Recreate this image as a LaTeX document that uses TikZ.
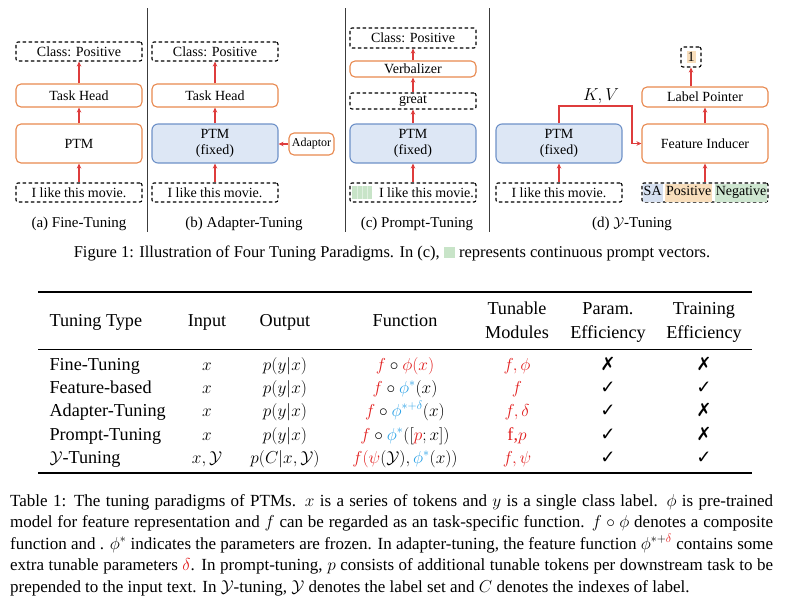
\documentclass[tikz,border=0pt]{standalone}
\usepackage{fontspec}
\setmainfont{Liberation Serif}
\newfontfamily\markfont{DejaVu Sans}
\usetikzlibrary{arrows.meta,positioning,calc}
\definecolor{boxorange}{RGB}{232,136,78}
\definecolor{ptmblue}{RGB}{110,145,200}
\definecolor{ptmfill}{RGB}{221,231,245}
\definecolor{arrowred}{RGB}{222,60,60}
\definecolor{promptgreen}{RGB}{200,228,200}
\definecolor{hlblue}{RGB}{214,224,240}
\definecolor{hlorange}{RGB}{248,222,188}
\definecolor{hlgreen}{RGB}{206,230,208}
\definecolor{fred}{RGB}{225,30,30}
\definecolor{phicyan}{RGB}{40,160,230}
\definecolor{sepgray}{RGB}{60,60,60}
\newcommand{\cmark}{{\markfont ✓}}
\newcommand{\xmark}{{\markfont ✗}}
\tikzset{
  dashbox/.style={draw, dash pattern=on 3.5pt off 2.5pt, line width=1.1pt, rounded corners=2pt, minimum width=126pt, inner sep=0pt},
  taskbox/.style={draw=boxorange, line width=1.1pt, rounded corners=5pt, minimum width=126pt, inner sep=0pt},
  ptmbox/.style={draw=ptmblue, fill=ptmfill, line width=1.1pt, rounded corners=6pt, minimum width=126pt, minimum height=39pt, inner sep=0pt, align=center},
  flow/.style={draw=arrowred, line width=1.2pt, -{Stealth[length=5pt,width=4.5pt]}},
  subcap/.style={font=\fontsize{15}{18}\selectfont},
}
\begin{document}
\begin{tikzpicture}[x=1pt, y=-1pt, font=\fontsize{14}{16}\selectfont]
\useasboundingbox (0,0) rectangle (791,600);
\foreach \x in {147,345,489} \draw[sepgray, line width=0.9pt] (\x,8) -- (\x,232);

\node[dashbox, minimum height=19pt] (clsA) at (79,51.5) {Class: Positive};
\node[taskbox, minimum height=23pt] (headA) at (79,95.5) {Task Head};
\node[taskbox, minimum height=39pt] (ptmA) at (79,143.5) {PTM};
\node[dashbox, minimum height=19pt] (inA) at (79,192.5) {I like this movie.};
\foreach \a/\b in {inA/ptmA, ptmA/headA, headA/clsA} \draw[flow] (\a) -- (\b);
\node[subcap] (capA) at (79,224) {(a) Fine-Tuning};

\node[dashbox, minimum height=19pt] (clsB) at (215,51.5) {Class: Positive};
\node[taskbox, minimum height=23pt] (headB) at (215,95.5) {Task Head};
\node[ptmbox] (ptmB) at (215,143.5) {PTM\\(fixed)};
\node[dashbox, minimum height=19pt] (inB) at (215,192.5) {I like this movie.};
\node[taskbox, minimum width=45pt, minimum height=22pt, font=\fontsize{12}{14}\selectfont] (adB) at (311.5,144) {Adaptor};
\foreach \a/\b in {inB/ptmB, ptmB/headB, headB/clsB} \draw[flow] (\a) -- (\b);
\draw[flow] (adB.west) -- (adB.west -| ptmB.east);
\node[subcap] (capB) at (244,224) {(b) Adapter-Tuning};

\node[dashbox, minimum height=20pt] (clsC) at (413,38) {Class: Positive};
\node[taskbox, minimum height=16pt] (verbC) at (413,69) {Verbalizer};
\node[dashbox, minimum height=16pt] (greatC) at (413,101) {great};
\node[ptmbox] (ptmC) at (413,143.5) {PTM\\(fixed)};
\node[dashbox, minimum height=19pt] (inC) at (413,192.5) {\hspace*{27pt}I like this movie.};
\fill[promptgreen] ($(inC.west)+(3,-6.5)$) rectangle ($(inC.west)+(23,6.5)$);
\foreach \s in {8,13,18} \draw[white, opacity=0.45, line width=0.6pt] ($(inC.west)+(\s,-6.5)$) -- ++(0,13);
\foreach \a/\b in {inC/ptmC, ptmC/greatC, greatC/verbC, verbC/clsC} \draw[flow] (\a) -- (\b);
\node[subcap] (capC) at (417,224) {(c) Prompt-Tuning};

\node[ptmbox] (ptmD) at (559,143.5) {PTM\\(fixed)};
\node[dashbox, minimum height=19pt] (inD) at (559,192.5) {I like this movie.};
\node[taskbox, minimum height=39pt] (fiD) at (705,143.5) {Feature Inducer};
\node[taskbox, minimum height=20pt] (lpD) at (705,97) {Label Pointer};
\node[dashbox, minimum width=20pt, minimum height=20pt] (oneD) at (691,57) {\setlength{\fboxsep}{1pt}\colorbox{hlorange}{1}};
\node[dashbox, minimum height=19pt] (labD) at (705,192.5) {\setlength{\fboxsep}{1pt}\colorbox{hlblue}{\strut SA}\hspace{2.5pt}\colorbox{hlorange}{\strut Positive}\hspace{2.5pt}\colorbox{hlgreen}{\strut Negative}};
\coordinate (kvTurn) at (632,106);
\draw[flow] (ptmD.north) |- (kvTurn) |- (fiD.west);
\node[font=\fontsize{18}{20}\selectfont] (kvD) at (601,96) {$K,V$};
\foreach \a/\b in {inD/ptmD, labD/fiD, fiD/lpD} \draw[flow] (\a) -- (\b);
\draw[flow] (lpD.north -| oneD.south) -- (oneD.south);
\node[subcap] (capD) at (632,224) {(d) $\mathcal{Y}$-Tuning};

\node[font=\fontsize{16.5}{21.5}\selectfont] (figcap) at (392,253) {Figure 1: Illustration of Four Tuning Paradigms. In (c), \textcolor{promptgreen}{\rule[-1pt]{11pt}{11pt}} represents continuous prompt vectors.};

\begin{scope}[font=\fontsize{18.2}{24}\selectfont]
\draw[line width=1.3pt] (38,292) -- (752,292);
\draw[line width=0.8pt] (38,349) -- (752,349);
\draw[line width=1.3pt] (38,473) -- (752,473);
\node[anchor=base west] (hType) at (46,326) {Tuning Type};
\node[anchor=base] (hInput) at (207,326) {Input};
\node[anchor=base] (hOutput) at (285,326) {Output};
\node[anchor=base] (hFunc) at (405,326) {Function};
\foreach \x/\t/\b in {517/Tunable/Modules, 608/Param./Efficiency, 704/Training/Efficiency} {
  \node[anchor=base] (hTop\x) at (\x,314) {\t};
  \node[anchor=base] (hBot\x) at (\x,338) {\b};
}
\foreach \r/\y/\ttype/\inp/\outp/\fun/\mods/\pe/\te in {
  1/370/Fine-Tuning/$x$/$p(y|x)$/{$\textcolor{fred}{f}\circ\textcolor{fred}{\phi(x)}$}/{$\textcolor{fred}{f,\phi}$}/\xmark/\xmark,
  2/393/Feature-based/$x$/$p(y|x)$/{$\textcolor{fred}{f}\circ\textcolor{phicyan}{\phi^*}(x)$}/{$\textcolor{fred}{f}$}/\cmark/\cmark,
  3/416/Adapter-Tuning/$x$/$p(y|x)$/{$\textcolor{fred}{f}\circ\textcolor{phicyan}{\phi^{*+\delta}}(x)$}/{$\textcolor{fred}{f,\delta}$}/\cmark/\xmark,
  4/440/Prompt-Tuning/$x$/$p(y|x)$/{$\textcolor{fred}{f}\circ\textcolor{phicyan}{\phi^*}([\textcolor{fred}{p};x])$}/{\textcolor{fred}{f,$p$}}/\cmark/\xmark,
  5/463/{$\mathcal{Y}$-Tuning}/{$x,\mathcal{Y}$}/{$p(C|x,\mathcal{Y})$}/{$\textcolor{fred}{f(\psi}(\mathcal{Y}),\textcolor{phicyan}{\phi^*}(x))$}/{$\textcolor{fred}{f,\psi}$}/\cmark/\cmark} {
  \node[anchor=base west] (type\r) at (46,\y) {\ttype};
  \node[anchor=base] (inp\r) at (207,\y) {\inp};
  \node[anchor=base] (out\r) at (285,\y) {\outp};
  \node[anchor=base] (fun\r) at (405,\y) {\fun};
  \node[anchor=base] (mod\r) at (517,\y) {\mods};
  \node[anchor=base] (pe\r) at (608,\y) {\pe};
  \node[anchor=base] (te\r) at (704,\y) {\te};
}
\end{scope}

\node[anchor=north west, inner sep=0pt, text width=763pt, align=justify, font=\fontsize{17}{21.5}\selectfont] (tabcap) at (10,494) {Table 1: The tuning paradigms of PTMs. $x$ is a series of tokens and $y$ is a single class label. $\phi$ is pre-trained\linebreak
model for feature representation and $f$ can be regarded as an task-specific function. $f\circ\phi$ denotes a composite\linebreak
function and . $\phi^*$ indicates the parameters are frozen. In adapter-tuning, the feature function $\phi^{*+\textcolor{fred}{\delta}}$ contains some\linebreak
extra tunable parameters $\textcolor{fred}{\delta}$. In prompt-tuning, $p$ consists of additional tunable tokens per downstream task to be\linebreak
prepended to the input text. In $\mathcal{Y}$-tuning, $\mathcal{Y}$ denotes the label set and $C$ denotes the indexes of label.};
\end{tikzpicture}
\end{document}
